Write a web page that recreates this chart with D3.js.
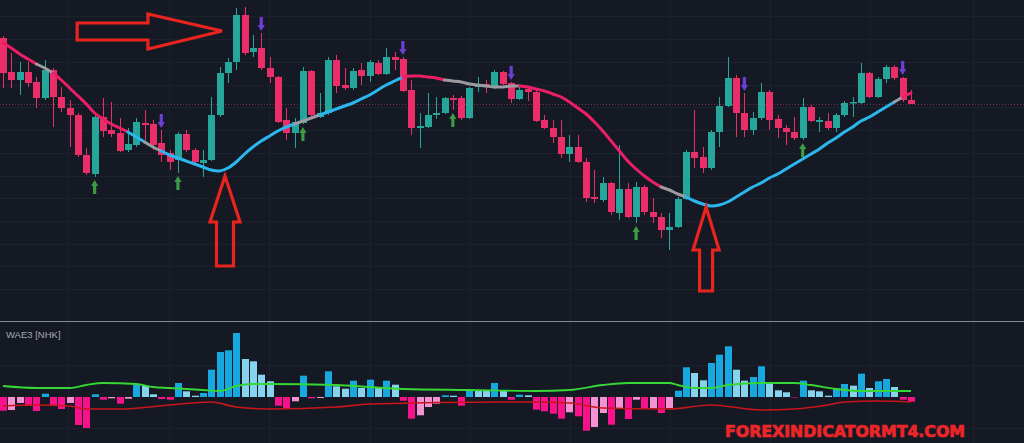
<!DOCTYPE html>
<html>
<head>
<meta charset="utf-8">
<title>WAE3 [NHK]</title>
<script src="https://cdn.jsdelivr.net/npm/d3@7"></script>
<style>
  html, body { margin: 0; padding: 0; background: #151924; overflow: hidden; }
  svg { display: block; }
</style>
</head>
<body>
<div id="chart"></div>
<script>
// Price candles: [open, high, low, close]
const candles = [
  [262,264,212,227],[228,247,212,220],[220,238,205,228],[228,238,213,217],[218,223,192,202],
  [202,240,200,230],[230,232,173,203],[203,213,188,192],[192,200,153,185],[185,187,143,145],
  [145,152,125,127],[126,185,123,183],[183,202,163,169],[170,198,163,166],[167,182,148,149],
  [150,172,148,156],[155,182,153,178],[177,190,160,175],[176,180,150,155],[157,170,138,145],
  [147,150,130,138],[140,168,127,166],[166,170,148,150],[150,152,135,138],[137,150,123,140],
  [140,203,139,185],[185,233,183,227],[227,242,217,238],[238,292,230,285],[285,293,245,247],
  [248,265,243,252],[252,267,230,232],[232,243,217,223],[223,224,177,178],[180,192,160,167],
  [167,182,152,178],[177,233,176,229],[229,230,183,185],[183,207,182,187],[187,243,185,240],
  [240,245,207,214],[215,232,210,212],[212,232,210,229],[230,237,215,224],[224,240,218,238],
  [237,240,225,226],[226,252,225,243],[243,248,230,240],[241,243,208,209],[210,220,165,172],
  [172,187,152,174],[173,207,172,185],[185,203,181,187],[187,203,186,202],[202,205,190,200],
  [202,204,180,182],[182,213,181,212],[213,223,208,215],[216,220,207,213],[212,230,211,228],
  [228,229,215,216],[217,218,197,201],[201,213,200,210],[211,214,199,208],[208,212,178,179],
  [180,185,171,172],[172,180,157,163],[163,180,142,146],[146,165,138,153],[153,165,137,138],
  [138,142,98,102],[103,130,97,101],[100,123,98,117],[117,118,85,88],[87,155,80,111],
  [111,117,82,83],[83,118,77,113],[113,115,85,88],[88,102,77,83],[83,87,62,70],
  [70,87,50,73],[73,103,72,101],[101,150,100,148],[148,190,132,142],[143,153,127,132],
  [132,170,130,168],[168,203,153,194],[194,243,193,222],[222,225,163,187],[187,207,163,170],
  [170,188,165,182],[182,217,180,208],[208,210,170,180],[181,185,162,172],[172,175,155,168],
  [168,183,160,162],[162,202,160,193],[193,195,178,179],[178,183,168,180],[179,187,170,172],
  [172,187,168,185],[185,199,183,197],[197,203,183,198],[197,237,196,227],[227,228,202,203],
  [203,223,202,221],[221,235,217,233],[233,235,220,222],[222,223,198,200],[200,210,196,196]
];

// Smoothed moving average, one value per candle
const maValues = [
  257,252,246,241,236,232,227,220,212,204,
  196,187,181,176,172,168,163,158,153,149,
  145,142,139,136,133,130,129,132,138,146,
  153,159,164,169,173,176,179,182,185,188,
  191,194,197,201,205,210,215,219,223,224,
  224,223,222,220,219,218,216,215,214,213,
  213,214,214,213,211,209,206,203,198,192,
  186,178,169,159,149,139,131,124,118,113,
  110,106,103,99,96,94,95,98,103,108,
  113,117,122,126,131,136,141,146,151,157,
  162,168,173,179,183,188,193,198,203,207
];

// colour runs of the moving average: [first index, last index, state]
const maRuns = [
  [0, 4, 'dn'], [4, 6, 'flat'], [6, 15, 'dn'], [15, 17, 'up'], [17, 19, 'flat'],
  [19, 35, 'up'], [35, 38, 'flat'], [38, 48, 'up'], [48, 53, 'dn'], [53, 62, 'flat'],
  [62, 79, 'dn'], [79, 82, 'flat'], [82, 107, 'up'], [107, 108, 'flat'], [108, 109, 'dn']
];

const buySignals = [11, 21, 36, 54, 76, 96];
const sellSignals = [19, 31, 48, 61, 89, 108];

// Waddah Attar Explosion histogram, one value per candle
const waeHist = [
  -13.7,-13,-6,-9,-14,3.3,-9,-12,-6,-28,
  -31,2.7,-2.7,-1.3,-6.7,-1.7,12.3,11.3,2.7,-2,
  -2.7,14,5.7,1.3,4,27.3,45,46.7,64,38,
  35.7,22.3,15.7,-8.7,-11,-4.3,21.3,-1.3,-1,25.7,
  10.7,8.3,16.3,9,17.3,9,16.3,12.3,-3.7,-21.7,
  -18.3,-10,-6.7,1.7,1.3,-8.7,7.3,7,6.3,14,
  6.3,-2.7,2.3,1.7,-12.7,-14.3,-16.7,-21.7,-15.3,-19.3,
  -33.7,-30,-16,-27.7,-11,-22,-2.7,-12,-11.5,-16,
  -11,6.3,29.7,24,16.7,34,42.3,50.7,27.3,16.3,
  20,30.7,14,6.7,4.7,-0.5,16.3,6.7,5.7,1.3,
  8.3,13,11.3,23.3,9,15.7,18,10,-2.7,-4.7
];

// explosion line and dead zone line: [candle index, value]
const explosionLine = [
  [0,11],[4,9],[8,9],[10,12],[12,14],[16,13],[18,10],[20,9],[24,7],[26,6],
  [28,11],[30,13],[32,13],[40,12],[44,10],[48,8],[56,7],[64,6],[68,7],[72,12],
  [75,14],[80,14],[81,12],[83,9],[85,9],[87,12],[91,14],[95,14],[97,12],[100,8],
  [103,6],[107,6],[109,6]
];
const deadZoneLine = [
  [0,-9],[4,-8],[8,-9],[10,-12],[14,-12],[20,-8],[25,-5],[28,-10],[32,-12],[40,-10],
  [44,-7],[60,-5],[64,-5],[68,-6],[72,-11],[80,-12],[85,-8],[91,-13],[95,-12],[99,-8],
  [101,-5],[105,-4],[109,-5]
];

const priceGrid = [284, 261, 238, 215, 193, 170, 147, 124, 102, 79, 56, 34, 11];
const timeGrid = [7.8, 19.9, 31.9, 44.1, 56.1, 68.1, 80.1, 92.1, 104.1, 116.5];
const waeGrid = [-31, 32];
const lastPrice = 196;

// hand-drawn red arrows (in candle index / price units)
const upMarkers = [
  { i: 26.65, tip: 124, base: 78, foot: 34, head: 15, shaft: 8.5 },
  { i: 84.4, tip: 93, base: 50, foot: 9, head: 13, shaft: 6.5 }
];
const rightMarker = { from: 8.9, neck: 17.4, tip: 26.3, top: 277, bottom: 260, headTop: 286, headBottom: 251, mid: 269 };

const colors = {
  bg: '#151924', grid: '#1d212e', bull: '#26a69a', bear: '#eb2d6a',
  up: '#2cb6ee', dn: '#ec1f66', flat: '#9b9ba0',
  buy: '#3c9b45', sell: '#6b3fd6', mark: '#e8241f'
};

const W = 1024, H = 443;
const svg = d3.select('#chart').append('svg').attr('width', W).attr('height', H);
svg.append('rect').attr('width', W).attr('height', H).attr('fill', colors.bg);

const x = d3.scaleLinear().domain([0, candles.length - 1]).range([3, 911]);
const y = d3.scaleLinear().domain([0, 300]).range([300, 0]);
const yw = d3.scaleLinear().domain([-46, 75]).range([443, 322]);

// grid
svg.append('g').selectAll('line').data(priceGrid).enter().append('line')
  .attr('x1', 0).attr('x2', W)
  .attr('y1', d => Math.round(y(d)) + 0.5).attr('y2', d => Math.round(y(d)) + 0.5)
  .attr('stroke', colors.grid);
svg.append('g').selectAll('line').data(waeGrid).enter().append('line')
  .attr('x1', 0).attr('x2', W)
  .attr('y1', d => Math.round(yw(d)) + 0.5).attr('y2', d => Math.round(yw(d)) + 0.5)
  .attr('stroke', colors.grid);
svg.append('g').selectAll('line').data(timeGrid).enter().append('line')
  .attr('x1', d => Math.round(x(d)) + 0.5).attr('x2', d => Math.round(x(d)) + 0.5)
  .attr('y1', 0).attr('y2', H)
  .attr('stroke', colors.grid);

// last price dotted line
svg.append('line')
  .attr('x1', 0).attr('x2', W)
  .attr('y1', Math.round(y(lastPrice)) + 0.5).attr('y2', Math.round(y(lastPrice)) + 0.5)
  .attr('stroke', '#a0325c').attr('stroke-dasharray', '1 2').attr('opacity', 0.8);

// candles
const candle = svg.append('g').selectAll('g').data(candles).enter().append('g');
candle.append('line')
  .attr('x1', (d, i) => Math.round(x(i)) + 0.5).attr('x2', (d, i) => Math.round(x(i)) + 0.5)
  .attr('y1', d => y(d[1])).attr('y2', d => y(d[2]))
  .attr('stroke', d => d[3] >= d[0] ? colors.bull : colors.bear);
candle.append('rect')
  .attr('x', (d, i) => Math.round(x(i)) - 3)
  .attr('width', 7)
  .attr('y', d => y(Math.max(d[0], d[3])))
  .attr('height', d => Math.max(1.5, Math.abs(y(d[0]) - y(d[3]))))
  .attr('fill', d => d[3] >= d[0] ? colors.bull : colors.bear);

// moving average, coloured by state
const maLine = d3.line()
  .x(i => x(i)).y(i => y(maValues[i]))
  .curve(d3.curveCatmullRom);
svg.append('g').selectAll('path').data(maRuns).enter().append('path')
  .attr('d', r => maLine(d3.range(r[0], r[1] + 1)))
  .attr('fill', 'none')
  .attr('stroke', r => colors[r[2]])
  .attr('stroke-width', 3)
  .attr('stroke-linecap', 'round');

// signal arrows
const arrowDown = 'M-1.6,0 L1.6,0 L1.6,8 L3.6,8 L0,14 L-3.6,8 L-1.6,8 Z';
svg.append('g').selectAll('path').data(sellSignals).enter().append('path')
  .attr('d', arrowDown)
  .attr('transform', i => `translate(${x(i)},${y(candles[i][1]) - 16})`)
  .attr('fill', colors.sell);
svg.append('g').selectAll('path').data(buySignals).enter().append('path')
  .attr('d', arrowDown)
  .attr('transform', i => `translate(${x(i)},${y(candles[i][2]) + 17}) scale(1,-1)`)
  .attr('fill', colors.buy);

// red outlined annotation arrows
const annot = svg.append('g').attr('fill', 'none').attr('stroke', colors.mark)
  .attr('stroke-width', 3.2).attr('stroke-linejoin', 'miter');
upMarkers.forEach(m => {
  const cx = x(m.i);
  const p = d3.path();
  p.moveTo(cx, y(m.tip));
  p.lineTo(cx + m.head, y(m.base));
  p.lineTo(cx + m.shaft, y(m.base));
  p.lineTo(cx + m.shaft, y(m.foot));
  p.lineTo(cx - m.shaft, y(m.foot));
  p.lineTo(cx - m.shaft, y(m.base));
  p.lineTo(cx - m.head, y(m.base));
  p.closePath();
  annot.append('path').attr('d', p.toString());
});
{
  const m = rightMarker;
  const p = d3.path();
  p.moveTo(x(m.from), y(m.top));
  p.lineTo(x(m.neck), y(m.top));
  p.lineTo(x(m.neck), y(m.headTop));
  p.lineTo(x(m.tip), y(m.mid));
  p.lineTo(x(m.neck), y(m.headBottom));
  p.lineTo(x(m.neck), y(m.bottom));
  p.lineTo(x(m.from), y(m.bottom));
  p.closePath();
  annot.append('path').attr('d', p.toString());
}

// panel separator
svg.append('line').attr('x1', 0).attr('x2', W).attr('y1', 321.5).attr('y2', 321.5)
  .attr('stroke', '#868a94');

// WAE histogram
let prevUp = 0, prevDn = 0;
const histColor = waeHist.map(v => {
  let c;
  if (v >= 0) {
    c = v < prevUp ? '#86d3ee' : '#17a8e0';
    prevUp = v; prevDn = 0;
  } else {
    c = -v < prevDn ? '#f492d4' : '#f7118a';
    prevDn = -v; prevUp = 0;
  }
  return c;
});
svg.append('g').selectAll('rect').data(waeHist).enter().append('rect')
  .attr('x', (d, i) => Math.round(x(i)) - 3)
  .attr('width', 7)
  .attr('y', d => yw(Math.max(0, d)))
  .attr('height', d => Math.abs(yw(d) - yw(0)))
  .attr('fill', (d, i) => histColor[i]);

const waeLine = d3.line().x(d => x(d[0])).y(d => yw(d[1])).curve(d3.curveMonotoneX);
svg.append('path').attr('d', waeLine(deadZoneLine))
  .attr('fill', 'none').attr('stroke', '#c8161b').attr('stroke-width', 1.6);
svg.append('path').attr('d', waeLine(explosionLine))
  .attr('fill', 'none').attr('stroke', '#35d635').attr('stroke-width', 1.8);

svg.append('text')
  .attr('x', 6).attr('y', 338)
  .attr('font-family', 'Liberation Sans, Arial, sans-serif')
  .attr('font-size', 9.5)
  .attr('fill', '#a4a7b0')
  .text('WAE3 [NHK]');

// watermark
svg.append('text')
  .attr('x', 845).attr('y', 437)
  .attr('text-anchor', 'middle')
  .attr('font-family', 'DejaVu Sans, Liberation Sans, sans-serif')
  .attr('font-weight', 'bold')
  .attr('font-size', 15)
  .attr('textLength', 240)
  .attr('lengthAdjust', 'spacingAndGlyphs')
  .attr('fill', '#ec2629')
  .attr('stroke', '#ec2629')
  .attr('stroke-width', 0.7)
  .text('FOREXINDICATORMT4.COM');
</script>
</body>
</html>
